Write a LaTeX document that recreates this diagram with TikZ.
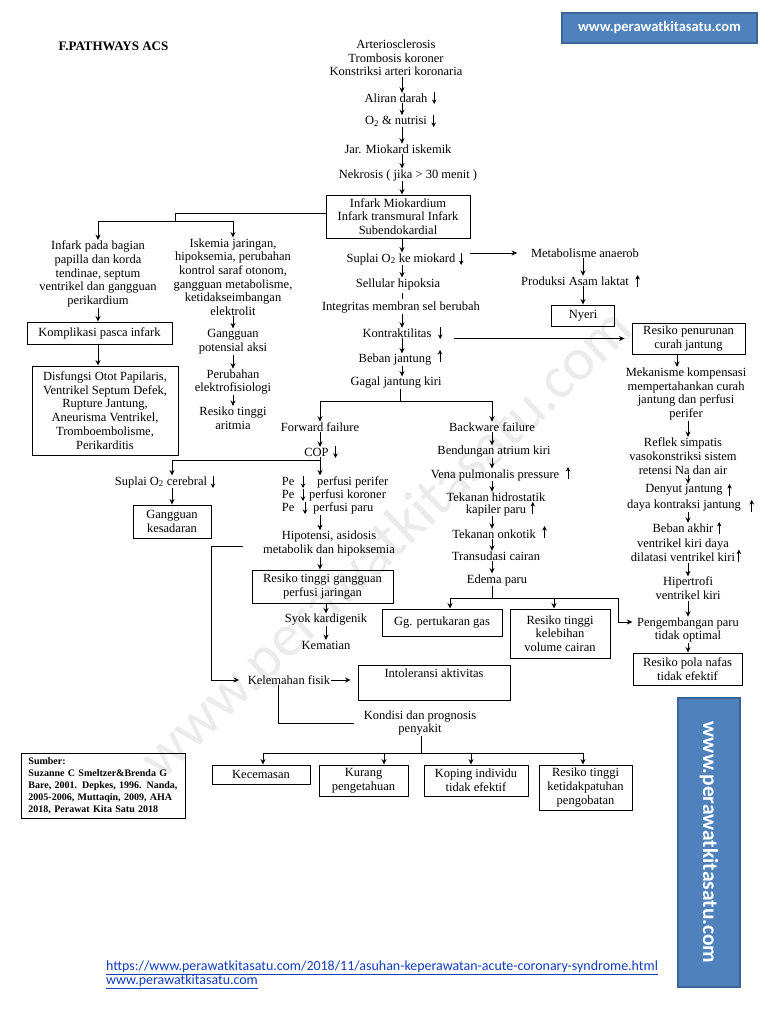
\documentclass[tikz,border=0pt]{standalone}
\usepackage{fontspec}
\setmainfont{Liberation Serif}
\newfontfamily\webfont{Carlito}
\usepackage{tikz}
\usetikzlibrary{
  arrows,
  calc,
  positioning,
  shapes,
  arrows.meta
}
\definecolor{webblue}{RGB}{79,129,189}
\definecolor{webedge}{RGB}{60,100,150}
\definecolor{linkblue}{RGB}{20,60,190}
\newcommand{\isi}{\fontsize{12.5}{13.7}\selectfont}
\tikzset{
  txt/.style={align=center,inner sep=0.6pt,font=\isi},
  kotak/.style={draw,line width=0.9pt,align=center,inner sep=1pt,font=\isi},
  arr/.style={-{Stealth[length=5.5pt,width=5pt]},line width=1pt},
  garis/.style={line width=0.9pt},
  web/.style={fill=webblue,draw=webedge,line width=1.4pt,text=white},
  turun/.pic={\draw[line width=0.9pt,-{Stealth[length=4.5pt,width=4.5pt]}] (0,-6) -- (0,6);},
  naik/.pic={\draw[line width=0.9pt,-{Stealth[length=4.5pt,width=4.5pt]}] (0,6) -- (0,-6);}
}

\begin{document}
\begin{tikzpicture}[x=1pt,y=-1pt]
  \fill[white] (0,0) rectangle (768,1024);
  \useasboundingbox (0,0) rectangle (768,1024);
  \node[rotate=43.5,text=black!8,font=\webfont\fontsize{60}{62}\selectfont] (TandaAir) at (388,545) {www.perawatkitasatu.com};

  \node[anchor=west,font=\fontsize{13}{15}\selectfont\bfseries] (Judul) at (55,46) {F.PATHWAYS ACS};
  \node[web,minimum width=195pt,minimum height=30pt,font=\webfont\bfseries\fontsize{14.5}{16}\selectfont] (WebAtas) at (659.5,28) {www.perawatkitasatu.com};
  \node[web,rotate=-90,minimum width=289pt,minimum height=62pt,font=\webfont\bfseries\fontsize{21.5}{24}\selectfont] (WebSamping) at (709,842.5) {www.perawatkitasatu.com};

  \coordinate (Sumbu) at (402,0);
  \coordinate (SumbuKanan) at (677,0);

  \node[txt] (Penyebab) at (396,58) {Arteriosclerosis\\Trombosis koroner\\Konstriksi arteri koronaria};
  \node[txt] (Aliran) at (396,98) {Aliran darah};
  \node[txt] (Nutrisi) at (396,121) {O\textsubscript{2} \& nutrisi};
  \node[txt] (Iskemik) at (398,149) {Jar. Miokard iskemik};
  \node[txt] (Nekrosis) at (408,175) {Nekrosis ( jika > 30 menit )};
  \node[kotak,minimum width=144pt,minimum height=43pt] (Infark) at (398,216.5) {Infark Miokardium\\Infark transmural Infark\\Subendokardial};
  \node[txt] (Suplai) at (401,259) {Suplai O\textsubscript{2} ke miokard};
  \node[txt] (Sellular) at (398,284) {Sellular hipoksia};
  \node[txt] (Integritas) at (401,308) {Integritas membran sel berubah};
  \node[txt] (Kontraktilitas) at (397,333) {Kontraktilitas};
  \node[txt] (Beban) at (395,360) {Beban jantung};
  \node[txt] (Gagal) at (396,383) {Gagal jantung kiri};

  \node[txt] (Anaerob) at (585,253) {Metabolisme anaerob};
  \node[txt] (Laktat) at (575,281) {Produksi Asam laktat};
  \node[kotak,minimum width=63pt,minimum height=21pt] (Nyeri) at (583,315.5) {Nyeri};

  \node[txt] (Papila) at (98,274) {Infark pada bagian\\papilla dan korda\\tendinae, septum\\ventrikel dan gangguan\\perikardium};
  \node[kotak,minimum width=145pt,minimum height=22pt] (Komplikasi) at (99.5,333) {Komplikasi pasca infark};
  \node[kotak,minimum width=146pt,minimum height=89pt] (Disfungsi) at (105,410.5) {Disfungsi Otot Papilaris,\\Ventrikel Septum Defek,\\Rupture Jantung,\\Aneurisma Ventrikel,\\Tromboembolisme,\\Perikarditis};
  \node[txt] (Iskemia) at (233,277) {Iskemia jaringan,\\hipoksemia, perubahan\\kontrol saraf otonom,\\gangguan metabolisme,\\ketidakseimbangan\\elektrolit};
  \node[txt] (Gangguan) at (233,341.5) {Gangguan\\potensial aksi};
  \node[txt] (Perubahan) at (233,382) {Perubahan\\elektrofisiologi};
  \node[txt] (Aritmia) at (233,418) {Resiko tinggi\\aritmia};

  \node[txt] (Forward) at (320,427) {Forward failure};
  \node[txt] (COP) at (316.5,452) {COP};
  \node[txt] (Cerebral) at (161,482) {Suplai O\textsubscript{2} cerebral};
  \node[kotak,minimum width=78pt,minimum height=33pt] (Kesadaran) at (172,521.5) {Gangguan\\kesadaran};
  \node[txt,anchor=west] (PePerifer) at (281,482) {Pe \hspace{19.8pt}perfusi perifer};
  \node[txt,anchor=west] (PeKoroner) at (281,495) {Pe \hspace{11.8pt}perfusi koroner};
  \node[txt,anchor=west] (PeParu) at (281,508) {Pe \hspace{15.8pt}perfusi paru};
  \node[txt] (Hipotensi) at (329,543.5) {Hipotensi, asidosis\\metabolik dan hipoksemia};
  \node[kotak,minimum width=141pt,minimum height=33pt] (ResikoPerfusi) at (322.5,586.5) {Resiko tinggi gangguan\\perfusi jaringan};
  \node[txt] (Syok) at (326,620) {Syok kardigenik};
  \node[txt] (Kematian) at (326,645) {Kematian};
  \node[txt] (Kelemahan) at (289,680) {Kelemahan fisik};
  \node[kotak,anchor=north,minimum width=152pt,text height=9pt,text depth=20pt,inner sep=3pt] (Intoleransi) at (434,665) {Intoleransi aktivitas};
  \node[txt] (Kondisi) at (420,723) {Kondisi dan prognosis\\penyakit};
  \node[kotak,minimum width=98pt,minimum height=19pt] (Kecemasan) at (261,774.5) {Kecemasan};
  \node[kotak,minimum width=89pt,minimum height=31pt] (Kurang) at (363.5,780.5) {Kurang\\pengetahuan};
  \node[kotak,minimum width=104pt,minimum height=31pt] (Koping) at (476,780.5) {Koping individu\\tidak efektif};
  \node[kotak,minimum width=93pt,minimum height=45pt] (ResikoObat) at (585.5,787.5) {Resiko tinggi\\ketidakpatuhan\\pengobatan};

  \node[txt] (Backward) at (492,427) {Backware failure};
  \node[txt] (Bendungan) at (494,452) {Bendungan atrium kiri};
  \node[txt] (Vena) at (495,475) {Vena pulmonalis pressure};
  \node[txt] (Hidrostatik) at (496,497) {Tekanan hidrostatik};
  \node[txt] (Kapiler) at (496,510) {kapiler paru};
  \node[txt] (Onkotik) at (494,534) {Tekanan onkotik};
  \node[txt] (Transudasi) at (496,556) {Transudasi cairan};
  \node[txt] (Edema) at (497,580) {Edema paru};
  \node[kotak,minimum width=120pt,minimum height=27pt] (Gas) at (442,622.5) {Gg. pertukaran gas};
  \node[kotak,minimum width=100pt,minimum height=49pt] (Kelebihan) at (560,633.5) {Resiko tinggi\\kelebihan\\volume cairan};

  \node[kotak,minimum width=113pt,minimum height=31pt] (ResikoCurah) at (688.5,338.5) {Resiko penurunan\\curah jantung};
  \node[txt] (Mekanisme) at (686,394) {Mekanisme kompensasi\\mempertahankan curah\\jantung dan perfusi\\perifer};
  \node[txt] (Reflek) at (683,456) {Reflek simpatis\\vasokonstriksi sistem\\retensi Na dan air};
  \node[txt] (Denyut) at (684,490) {Denyut jantung};
  \node[txt] (Kontraksi) at (684,506) {daya kontraksi jantung};
  \node[txt] (BebanAkhir) at (683,528) {Beban akhir};
  \node[txt] (BebanAkhirDua) at (683,550.5) {ventrikel kiri daya\\dilatasi ventrikel kiri};
  \node[txt] (Hipertrofi) at (688,588.5) {Hipertrofi\\ventrikel kiri};
  \node[txt] (Pengembangan) at (688,630) {Pengembangan paru\\tidak optimal};
  \node[kotak,minimum width=109pt,minimum height=32pt] (PolaNafas) at (687.5,669) {Resiko pola nafas\\tidak efektif};

  \node[draw,line width=0.9pt,anchor=north west,minimum width=164pt,minimum height=65pt,text width=150pt,align=left,inner sep=4pt,font=\fontsize{10}{12}\selectfont\bfseries] (Sumber) at (21,753) {Sumber:\\Suzanne C Smeltzer\&Brenda G\\Bare, 2001. Depkes, 1996. Nanda,\\2005-2006, Muttaqin, 2009, AHA\\2018, Perawat Kita Satu 2018};
  \node[anchor=west,inner sep=0pt,text=linkblue,font=\webfont\fontsize{13.95}{15}\selectfont] (Tautan) at (106,968) {\underline{https://www.perawatkitasatu.com/2018/11/asuhan-keperawatan-acute-coronary-syndrome.html}};
  \node[anchor=west,inner sep=0pt,text=linkblue,font=\webfont\fontsize{13.95}{15}\selectfont] (TautanUtama) at (106,982) {\underline{www.perawatkitasatu.com}};

  \pic at ([xshift=6pt]Aliran.east) {turun};
  \pic at ([xshift=6pt]Nutrisi.east) {turun};
  \pic at ([xshift=5pt]Suplai.east) {turun};
  \pic at ([xshift=8pt]Laktat.east) {naik};
  \pic at ([xshift=8pt]Kontraktilitas.east) {turun};
  \pic at ([xshift=8pt,yshift=4pt]Beban.east) {naik};
  \pic at ([xshift=6pt]COP.east) {turun};
  \pic at ([xshift=5pt]Cerebral.east) {turun};
  \pic at ([xshift=22pt]PePerifer.west) {turun};
  \pic at ([xshift=22pt]PeKoroner.west) {turun};
  \pic at ([xshift=24pt]PeParu.west) {turun};
  \pic at ([xshift=8pt,yshift=2pt]Vena.east) {naik};
  \pic at ([xshift=6pt,yshift=2pt]Kapiler.east) {naik};
  \pic at ([xshift=8pt,yshift=2pt]Onkotik.east) {naik};
  \pic at ([xshift=6pt]Denyut.east) {naik};
  \pic at ([xshift=10pt]Kontraksi.east) {naik};
  \pic at ([xshift=5pt]BebanAkhir.east) {naik};
  \pic at ([xshift=3pt,yshift=-5pt]BebanAkhirDua.east) {naik};

  \draw[arr] (Penyebab.south -| Sumbu) -- (Aliran.north -| Sumbu);
  \draw[arr] (Aliran.south -| Sumbu) -- (Nutrisi.north -| Sumbu);
  \draw[arr] (Nutrisi.south -| Sumbu) -- (Iskemik.north -| Sumbu);
  \draw[arr] (Iskemik.south -| Sumbu) -- (Nekrosis.north -| Sumbu);
  \draw[arr] (Nekrosis.south -| Sumbu) -- (Infark.north -| Sumbu);
  \draw[arr] (Infark.south -| Sumbu) -- (Suplai.north -| Sumbu);
  \draw[arr] (Suplai.south -| Sumbu) -- (Sellular.north -| Sumbu);
  \draw[garis] ($(Sellular.south -| Sumbu)+(0,3)$) -- ($(Integritas.north -| Sumbu)+(0,-3)$);
  \draw[arr] (Integritas.south -| Sumbu) -- (Kontraktilitas.north -| Sumbu);
  \draw[arr] (Kontraktilitas.south -| Sumbu) -- (Beban.north -| Sumbu);
  \draw[arr] (Beban.south -| Sumbu) -- (Gagal.north -| Sumbu);

  \coordinate (SuplaiKanan) at ([xshift=14pt]Suplai.east);
  \draw[arr] (SuplaiKanan |- Anaerob.west) -- ([xshift=-13pt]Anaerob.west);
  \draw[arr] (Anaerob.south -| Nyeri) -- (Laktat.north -| Nyeri);
  \draw[arr] (Laktat.south -| Nyeri) -- (Nyeri.north);
  \coordinate (KontraKanan) at ([xshift=22pt]Kontraktilitas.east);
  \draw[arr] (KontraKanan |- ResikoCurah.west) -- ([xshift=-7pt]ResikoCurah.west);

  \coordinate (PisahKiri) at (175,222);
  \draw[garis] ([yshift=3pt]Infark.west) -| (PisahKiri);
  \draw[arr] (PisahKiri) -| (Papila.north);
  \draw[arr] (PisahKiri) -| (Iskemia.north);
  \draw[arr] (Papila.south) -- (Papila.south |- Komplikasi.north);
  \draw[arr] (Komplikasi.south -| Papila) -- (Disfungsi.north -| Papila);
  \draw[arr] (Iskemia.south) -- (Gangguan.north);
  \draw[arr] (Gangguan.south) -- (Perubahan.north);
  \draw[arr] (Perubahan.south) -- (Aritmia.north);

  \coordinate (PisahGagal) at ($(Gagal.south -| Sumbu)+(-2,12)$);
  \draw[garis] (Gagal.south -| PisahGagal) -- (PisahGagal);
  \draw[arr] (PisahGagal) -| (Forward.north);
  \draw[arr] (PisahGagal) -| (Backward.north);

  \draw[arr] (Forward.south) -- (Forward.south |- COP.north);
  \coordinate (PisahCOP) at ($(COP.south -| Forward)+(0,3)$);
  \draw[arr] (COP.south -| Forward) -- (PePerifer.north -| Forward);
  \draw[arr] (PisahCOP) -| (Kesadaran.north |- Cerebral.north);
  \draw[arr] (Cerebral.south -| Kesadaran) -- (Kesadaran.north);
  \draw[arr] (PeParu.south -| Forward) -- (Hipotensi.north -| Forward);
  \draw[arr] ([xshift=-19pt,yshift=-3pt]Hipotensi.west) -- ++(-32,0) |- ([xshift=-8pt]Kelemahan.west);
  \draw[arr] (Hipotensi.south -| Forward) -- (ResikoPerfusi.north -| Forward);
  \draw[arr] (ResikoPerfusi.south -| Syok) -- (Syok.north);
  \draw[arr] (Syok.south) -- (Kematian.north);
  \coordinate (MasukIntoleransi) at ($(Intoleransi.west |- Kelemahan.east)+(-7,0)$);
  \draw[arr] (Kelemahan.east) -- (MasukIntoleransi);
  \draw[garis] ([xshift=-11pt]Kelemahan.south) |- ([xshift=-9pt]Kondisi.west);

  \coordinate (PisahKondisi) at ($(Kondisi.south)+(1,17)$);
  \draw[garis] (Kondisi.south -| PisahKondisi) -- (PisahKondisi);
  \draw[arr] (PisahKondisi) -| ([xshift=2pt]Kecemasan.north);
  \draw[arr] (PisahKondisi) -| ([xshift=20.5pt]Kurang.north);
  \draw[arr] (PisahKondisi) -| ([xshift=-5pt]Koping.north);
  \draw[arr] (PisahKondisi) -| ([xshift=-2.5pt]ResikoObat.north);

  \draw[arr] (Backward.south) -- (Backward.south |- Bendungan.north);
  \draw[arr] (Bendungan.south -| Backward) -- (Vena.north -| Backward);
  \draw[arr] (Vena.south -| Backward) -- (Hidrostatik.north -| Backward);
  \draw[arr] (Kapiler.south -| Backward) -- (Onkotik.north -| Backward);
  \draw[arr] (Onkotik.south -| Backward) -- (Transudasi.north -| Backward);
  \draw[arr] (Transudasi.south -| Backward) -- (Edema.north -| Backward);
  \coordinate (PisahEdema) at ($(Edema.south -| Backward)+(0,12)$);
  \draw[garis] (Edema.south -| Backward) -- (PisahEdema);
  \draw[arr] (PisahEdema) -| ([xshift=8pt]Gas.north);
  \draw[arr] (PisahEdema) -| ([xshift=-6pt]Kelebihan.north);
  \coordinate (BelokParu) at ($(Kelebihan.east |- Pengembangan.west)+(8,-8)$);
  \coordinate (MasukParu) at ($(BelokParu -| Pengembangan.west)+(-4,0)$);
  \draw[arr] (PisahEdema) -| (BelokParu) -- (MasukParu);

  \draw[arr] (ResikoCurah.south -| SumbuKanan) -- (Mekanisme.north -| SumbuKanan);
  \draw[arr] (Mekanisme.south -| Pengembangan) -- (Reflek.north -| Pengembangan);
  \draw[arr] (Reflek.south -| Pengembangan) -- (Denyut.north -| Pengembangan);
  \draw[arr] (Kontraksi.south -| Pengembangan) -- (BebanAkhir.north -| Pengembangan);
  \draw[arr] (BebanAkhirDua.south -| Pengembangan) -- (Hipertrofi.north -| Pengembangan);
  \draw[arr] (Hipertrofi.south -| Pengembangan) -- (Pengembangan.north);
  \draw[arr] (Pengembangan.south) -- (Pengembangan.south |- PolaNafas.north);
\end{tikzpicture}
\end{document}
